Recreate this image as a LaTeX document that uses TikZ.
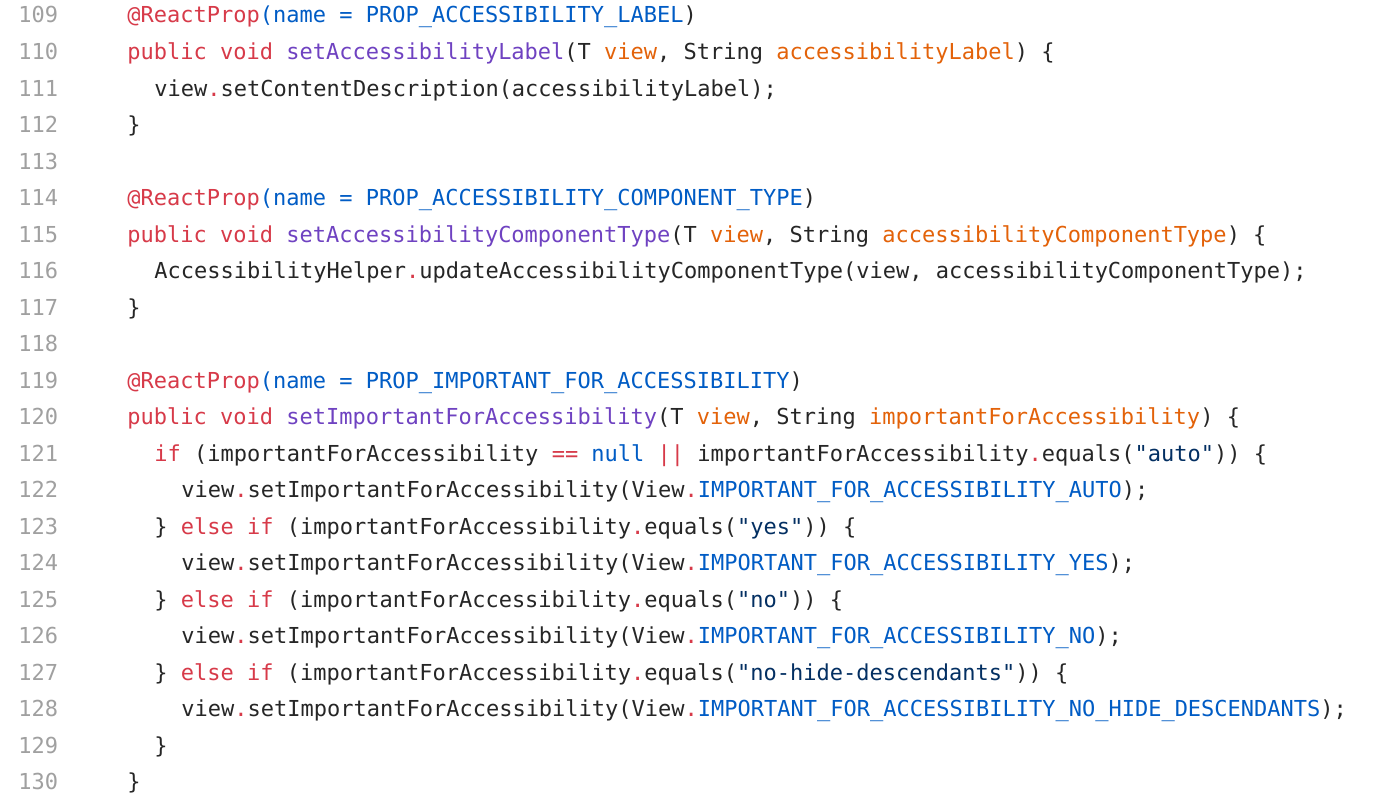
\documentclass[tikz,border=0pt]{standalone}
\usepackage{fontspec}
\newfontfamily\codefont{DejaVu Sans Mono}
\definecolor{kwred}{HTML}{D73A49}
\definecolor{fnpurple}{HTML}{6F42C1}
\definecolor{argorange}{HTML}{E36209}
\definecolor{cstblue}{HTML}{005CC5}
\definecolor{strnavy}{HTML}{032F62}
\definecolor{numgray}{HTML}{A0A0A0}
\newcommand{\Kw}[1]{\textcolor{kwred}{#1}}
\newcommand{\Fn}[1]{\textcolor{fnpurple}{#1}}
\newcommand{\Ar}[1]{\textcolor{argorange}{#1}}
\newcommand{\Cs}[1]{\textcolor{cstblue}{#1}}
\newcommand{\St}[1]{\textcolor{strnavy}{#1}}
\newcommand{\Dt}{\Kw{.}}
\tikzset{
  codeline/.style={anchor=base west, inner sep=0pt, text=black!85,
    font=\codefont\fontsize{11}{13}\selectfont},
  linenum/.style={codeline, text=numgray}
}

\begin{document}
\begin{tikzpicture}[x=0.5pt,y=-0.5pt]

\useasboundingbox[fill=white] (0,0) rectangle (1400,801);

% line numbers
\foreach \n [count=\i from 0] in {109,...,130}
  \node[linenum] (num\n) at (18,{23+36.52*\i}) {\n};

% code, indent steps of two characters
\node[codeline] (l109) at (127,{23+36.52*0}) {\Kw{@ReactProp}\Cs{(name = PROP\_ACCESSIBILITY\_LABEL})};
\node[codeline] (l110) at (127,{23+36.52*1}) {\Kw{public void} \Fn{setAccessibilityLabel}(T \Ar{view}, String \Ar{accessibilityLabel}) \{};
\node[codeline] (l111) at (154,{23+36.52*2}) {view\Dt setContentDescription(accessibilityLabel);};
\node[codeline] (l112) at (127,{23+36.52*3}) {\}};

\node[codeline] (l114) at (127,{23+36.52*5}) {\Kw{@ReactProp}\Cs{(name = PROP\_ACCESSIBILITY\_COMPONENT\_TYPE})};
\node[codeline] (l115) at (127,{23+36.52*6}) {\Kw{public void} \Fn{setAccessibilityComponentType}(T \Ar{view}, String \Ar{accessibilityComponentType}) \{};
\node[codeline] (l116) at (154,{23+36.52*7}) {AccessibilityHelper\Dt updateAccessibilityComponentType(view, accessibilityComponentType);};
\node[codeline] (l117) at (127,{23+36.52*8}) {\}};

\node[codeline] (l119) at (127,{23+36.52*10}) {\Kw{@ReactProp}\Cs{(name = PROP\_IMPORTANT\_FOR\_ACCESSIBILITY})};
\node[codeline] (l120) at (127,{23+36.52*11}) {\Kw{public void} \Fn{setImportantForAccessibility}(T \Ar{view}, String \Ar{importantForAccessibility}) \{};
\node[codeline] (l121) at (154,{23+36.52*12}) {\Kw{if} (importantForAccessibility \Kw{==} \Cs{null} \Kw{||} importantForAccessibility\Dt equals(\St{"auto"})) \{};
\node[codeline] (l122) at (181,{23+36.52*13}) {view\Dt setImportantForAccessibility(View\Dt\Cs{IMPORTANT\_FOR\_ACCESSIBILITY\_AUTO});};
\node[codeline] (l123) at (154,{23+36.52*14}) {\} \Kw{else if} (importantForAccessibility\Dt equals(\St{"yes"})) \{};
\node[codeline] (l124) at (181,{23+36.52*15}) {view\Dt setImportantForAccessibility(View\Dt\Cs{IMPORTANT\_FOR\_ACCESSIBILITY\_YES});};
\node[codeline] (l125) at (154,{23+36.52*16}) {\} \Kw{else if} (importantForAccessibility\Dt equals(\St{"no"})) \{};
\node[codeline] (l126) at (181,{23+36.52*17}) {view\Dt setImportantForAccessibility(View\Dt\Cs{IMPORTANT\_FOR\_ACCESSIBILITY\_NO});};
\node[codeline] (l127) at (154,{23+36.52*18}) {\} \Kw{else if} (importantForAccessibility\Dt equals(\St{"no-hide-descendants"})) \{};
\node[codeline] (l128) at (181,{23+36.52*19}) {view\Dt setImportantForAccessibility(View\Dt\Cs{IMPORTANT\_FOR\_ACCESSIBILITY\_NO\_HIDE\_DESCENDANTS});};
\node[codeline] (l129) at (154,{23+36.52*20}) {\}};
\node[codeline] (l130) at (127,{23+36.52*21}) {\}};

\end{tikzpicture}
\end{document}
